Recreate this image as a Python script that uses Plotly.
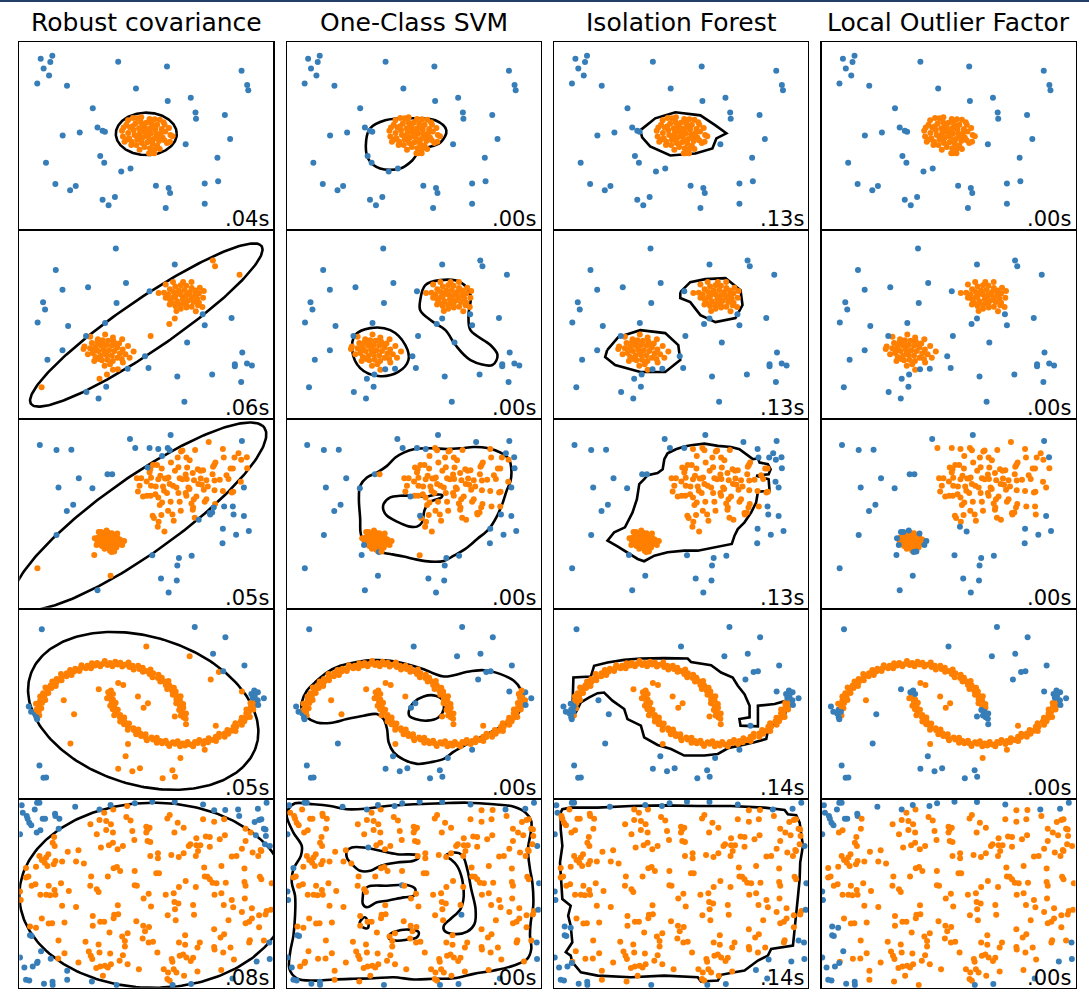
import numpy as np
import plotly.graph_objects as go

TITLES = ["Robust covariance", "One-Class SVM", "Isolation Forest", "Local Outlier Factor"]
TIMES = [[".04s", ".00s", ".13s", ".00s"],
         [".06s", ".00s", ".13s", ".00s"],
         [".05s", ".00s", ".13s", ".00s"],
         [".05s", ".00s", ".14s", ".00s"],
         [".08s", ".00s", ".14s", ".00s"]]
BLUE, ORANGE = "#377eb8", "#ff7f00"

# ---------------- row 1 : one blob + outliers ----------------
R1_CORE = [(-1.01,1.14),(-0.74,1.31),(-0.28,1.36),(0.18,1.24),(0.46,1.21),(0.74,1.19),(1.01,0.81),(1.25,0.56),
           (1.33,0.04),(1.45,-0.05),(1.14,-0.56),(1.30,-0.45),(0.74,-0.99),(0.44,-1.31),(0.15,-1.31),(0.25,-1.32),
           (-0.37,-1.06),(-0.83,-0.71),(-1.20,-0.46),(-1.29,-0.06),(-1.34,0.36),(-1.10,0.81),(-0.5,1.3),(0.95,1.0),
           (-1.25,0.6),(-1.05,-0.3),
           (-0.9,0.6),(-0.6,0.9),(-0.3,1.0),(0.0,0.95),(0.3,0.9),(0.6,0.8),(0.85,0.5),(-1.0,0.2),(-0.7,0.4),
           (-0.4,0.55),(-0.1,0.6),(0.2,0.55),(0.5,0.45),(0.8,0.2),(1.05,0.3),(-0.95,-0.2),(-0.65,0.05),(-0.35,0.2),
           (-0.05,0.25),(0.25,0.15),(0.55,0.1),(0.9,-0.15),(-0.8,-0.45),(-0.5,-0.3),(-0.2,-0.15),(0.1,-0.1),
           (0.4,-0.25),(0.7,-0.4),(1.0,-0.35),(-0.55,-0.7),(-0.25,-0.55),(0.05,-0.5),(0.35,-0.6),(0.6,-0.75),
           (-0.1,-0.85),(0.2,-0.95),(0.45,-1.0),(-0.15,0.35),(0.15,0.3),(0.35,0.6),(-0.45,-0.05),(0.65,-0.1),
           (-0.75,0.7),(0.0,0.0),(-0.3,-0.35),(0.3,-0.4),(0.5,0.7),(-0.2,0.8)]
R1_FLAG = [(-5.82,5.73,"bbbb"),(-5.18,5.95,"bbbb"),(-5.29,5.48,"bbbb"),(-5.66,5.00,"bbbb"),(-5.36,4.48,"bbbb"),
           (-6.01,3.88,"bbbb"),(-4.37,3.71,"bbbb"),(-1.55,5.50,"bbbb"),(1.14,5.15,"bbbb"),(5.25,4.83,"bbbb"),
           (5.56,3.78,"bbbb"),(5.62,3.38,"bbbb"),(-0.57,3.51,"bbbb"),(1.18,2.58,"bbbb"),(2.45,2.83,"bbbb"),
           (-2.95,2.03,"bbbb"),(2.71,1.73,"bbbb"),(2.74,1.26,"bbbb"),(4.33,1.53,"bbbb"),(-2.69,0.61,"bbbb"),
           (-2.41,0.36,"bbbb"),(-2.28,0.29,"bbbb"),(-4.61,0.01,"bbbb"),(-3.67,0.24,"bbbb"),(2.17,-0.64,"bbbb"),
           (4.62,-0.26,"bbbb"),(-2.54,-1.53,"bbbb"),(-2.32,-2.03,"bbbb"),(-5.53,-2.03,"bbbb"),(-1.38,-2.68,"bbbb"),
           (-0.87,-2.46,"bbbb"),(3.92,-1.66,"bbbb"),(3.96,-3.41,"bbbb"),(3.22,-3.58,"bbbb"),(-5.01,-3.61,"bbbb"),
           (-3.89,-3.76,"bbbb"),(-4.20,-4.08,"bbbb"),(0.53,-3.73,"bbbb"),(1.23,-3.91,"bbbb"),(1.31,-4.28,"bbbb"),
           (-1.73,-4.58,"bbbb"),(-2.41,-4.78,"bbbb"),(-2.08,-5.20,"bbbb"),(1.07,-5.40,"bbbb"),(3.22,-5.08,"bbbb")]

# ---------------- row 2 : two blobs + outliers ----------------
R2_CORE = [(0.68,2.32),(1.07,2.96),(1.47,3.13),(2.03,3.13),(2.49,3.13),(2.95,2.71),(3.17,2.47),(3.13,1.97),
           (3.09,1.27),(2.73,0.95),(2.21,1.23),(1.66,0.98),(1.29,1.47),(1.07,1.97),(0.98,2.34),(2.85,1.40),
           (1.3,2.6),(1.6,2.8),(1.9,2.9),(2.2,2.85),(2.5,2.7),(2.7,2.5),(1.2,2.2),(1.5,2.4),(1.8,2.5),(2.1,2.55),
           (2.4,2.4),(2.7,2.2),(2.9,2.3),(1.3,1.85),(1.6,2.05),(1.9,2.2),(2.2,2.15),(2.5,2.0),(2.8,1.9),(1.4,1.6),
           (1.7,1.7),(2.0,1.85),(2.3,1.75),(2.6,1.65),(2.9,1.6),(1.6,1.35),(1.9,1.45),(2.2,1.4),(2.5,1.3),
           (1.9,1.15),(2.05,2.0),(1.75,2.3),(2.35,2.25),(2.1,1.6),(1.5,2.0),
           (-3.41,-1.67),(-3.09,-0.95),(-2.67,-1.13),(-2.27,-0.78),(-1.84,-1.0),(-1.33,-1.13),(-1.01,-1.63),
           (-0.70,-2.04),(-0.92,-2.51),(-1.29,-2.86),(-1.84,-3.41),(-2.30,-3.11),(-2.87,-2.76),(-3.22,-2.24),
           (-3.46,-1.86),(-3.0,-1.4),(-2.7,-1.35),(-2.4,-1.2),(-2.1,-1.25),(-1.8,-1.3),(-1.5,-1.45),(-3.1,-1.8),
           (-2.8,-1.7),(-2.5,-1.6),(-2.2,-1.55),(-1.9,-1.6),(-1.6,-1.75),(-1.3,-1.9),(-2.95,-2.15),(-2.65,-2.0),
           (-2.35,-1.9),(-2.05,-1.95),(-1.75,-2.0),(-1.45,-2.2),(-1.15,-2.25),(-2.8,-2.45),(-2.5,-2.35),
           (-2.2,-2.3),(-1.9,-2.35),(-1.6,-2.5),(-1.35,-2.6),(-2.45,-2.7),(-2.15,-2.65),(-1.85,-2.75),
           (-2.0,-3.0),(-2.3,-2.05),(-2.6,-2.6),(-1.7,-1.5),(-2.45,-1.45),(-2.9,-2.0)]
R2_FLAG = [(-1.68,5.64,"bbbb"),(-4.99,4.03,"bbbb"),(-4.62,2.56,"bbbb"),(-3.21,2.74,"bbbb"),(-1.12,3.06,"bbbb"),
           (1.57,4.45,"bbbb"),(3.67,4.75,"obbb"),(3.79,4.32,"obbb"),(5.14,3.68,"obbb"),(0.18,2.44,"bbbb"),
           (-5.69,1.62,"bbbb"),(-5.58,1.08,"bbbb"),(-1.64,1.57,"bbbb"),(-5.99,0.11,"bbbb"),(-4.31,-0.14,"bbbb"),
           (-2.27,0.09,"bbbb"),(-3.32,-0.88,"bbbb"),(0.24,-0.88,"obbb"),(1.27,0.01,"obbb"),(1.57,0.41,"obbb"),
           (3.11,0.73,"bbbb"),(3.22,-0.09,"bbbb"),(4.70,0.46,"bbbb"),(2.25,-1.38,"bbbb"),(-4.62,-1.95,"bbbb"),
           (-5.45,-2.66,"bbbb"),(-0.07,-2.39,"bbbb"),(0.12,-3.28,"bbbb"),(-1.57,-3.36,"obbb"),(-1.03,-3.33,"bbbb"),
           (-2.17,-3.75,"obbb"),(-2.58,-4.08,"obbb"),(-2.21,-4.67,"bbbb"),(-3.30,-5.07,"bbbb"),(-2.63,-5.54,"bbbb"),
           (-5.77,-4.70,"obbb"),(1.71,-3.90,"bbbb"),(2.10,-5.79,"bbbb"),(3.63,-3.75,"bbbb"),(5.23,-4.32,"bbbb"),
           (5.29,-2.12,"bbbb"),(4.88,-2.99,"bbbb"),(4.88,-3.14,"bbbb"),(5.55,-2.94,"bbbb"),(5.82,-3.09,"bbbb")]

# ---------------- row 3 : wide blob + tight blob + outliers ----------------
R3_CORE = [(1.92,4.65),(1.99,4.72),(2.69,4.77),(1.73,4.20),(2.21,4.20),(2.39,4.00),(0.22,3.33),(0.37,3.65),
           (0.59,3.65),(0.85,3.38),(1.36,3.83),(1.77,3.48),(2.25,3.46),(2.84,3.33),(2.98,3.21),(3.13,3.26),
           (3.74,3.65),(3.81,3.83),(3.68,3.51),(4.64,3.38),(4.77,3.38),(4.42,2.89),(1.58,3.21),(0.18,3.08),
           (-0.52,2.66),(-0.28,2.66),(0.02,2.42),(0.26,2.69),(0.66,2.59),(0.77,2.84),(1.03,2.64),(1.22,2.71),
           (1.84,2.66),(1.99,2.59),(2.17,2.94),(2.23,2.61),(2.56,3.04),(2.63,2.51),(3.00,2.64),(3.31,2.51),
           (3.65,2.96),(3.76,2.49),(4.05,2.54),(4.53,2.61),(-0.37,2.09),(0.26,2.09),(0.52,2.04),(0.92,2.04),
           (1.29,2.22),(1.47,2.09),(0.98,1.72),(1.14,1.55),(1.77,1.55),(2.17,1.55),(2.38,1.85),(2.87,2.22),
           (3.06,2.17),(3.17,1.80),(3.39,2.04),(3.76,1.77),(4.22,1.70),(4.71,1.60),(4.79,1.65),(-0.46,1.67),
           (0.04,1.35),(0.24,1.35),(0.50,1.47),(0.66,1.22),(0.87,0.85),(1.34,0.90),(1.84,0.90),(2.21,1.35),
           (2.49,0.78),(2.62,1.10),(2.76,1.30),(3.22,0.90),(3.31,1.10),(3.79,0.73),(0.74,0.66),(1.20,0.24),
           (1.44,-0.04),(1.90,0.24),(2.58,0.48),(2.56,0.31),(0.42,-0.31),(0.83,-0.09),(0.68,-0.58),(1.51,-0.51),
           (2.67,-0.28),(2.32,1.97),(1.66,1.97),(1.14,2.64),
           (-2.5,-1.55),(-2.3,-1.45),(-2.1,-1.4),(-1.9,-1.45),(-1.7,-1.6),(-2.65,-1.75),(-2.45,-1.7),(-2.25,-1.65),
           (-2.05,-1.6),(-1.85,-1.65),(-1.6,-1.75),(-1.45,-1.9),(-2.7,-2.0),(-2.5,-1.95),(-2.3,-1.9),(-2.1,-1.85),
           (-1.9,-1.9),(-1.7,-1.95),(-1.5,-2.1),(-2.6,-2.2),(-2.4,-2.15),(-2.2,-2.1),(-2.0,-2.05),(-1.8,-2.15),
           (-1.6,-2.3),(-2.45,-2.4),(-2.25,-2.35),(-2.05,-2.3),(-1.85,-2.4),(-1.65,-2.5),(-2.3,-2.6),(-2.1,-2.55),
           (-1.9,-2.6),(-2.0,-2.75),(-2.15,-2.0),(-1.95,-2.2),(-2.35,-1.8),(-1.75,-1.8)]
R3_FLAG = [(-0.61,4.92,"bbbo"),(0.18,4.92,"bbbo"),(0.66,4.84,"bboo"),(1.18,4.92,"booo"),(1.29,4.74,"booo"),
           (0.87,4.32,"booo"),(0.07,3.46,"booo"),(3.44,5.36,"obbo"),(4.22,4.84,"oobo"),(4.27,4.20,"oobo"),
           (4.86,4.20,"oobo"),(5.08,4.52,"obbo"),(5.23,4.03,"oobo"),(5.56,3.41,"obbo"),(5.21,2.39,"oobo"),
           (5.38,1.97,"bbbo"),(4.77,0.56,"bobo"),(4.81,-0.04,"bbbo"),(0.35,-0.14,"oboo"),(-0.18,1.30,"oboo"),
           (3.52,-0.04,"booo"),(3.50,0.06,"booo"),(3.63,0.11,"booo"),(2.89,-0.43,"booo"),(4.29,0.56,"booo"),
           (3.72,0.48,"booo"),
           (-2.62,-1.35,"ooob"),(-2.49,-1.35,"ooob"),(-2.19,-1.23,"ooob"),(-1.60,-1.47,"ooob"),(-1.22,-2.02,"ooob"),
           (-1.33,-2.32,"ooob"),(-2.84,-1.82,"ooob"),(-2.74,-2.32,"obob"),(-1.92,-2.84,"obob"),(-1.77,-2.81,"ooob"),
           (-5.87,5.14,"bbbb"),(-4.95,4.77,"bbbb"),(-4.13,4.79,"bbbb"),(-0.90,5.59,"bbbb"),(1.34,5.88,"bbbb"),
           (5.27,5.44,"bbbb"),(5.54,4.22,"obbb"),(-3.72,2.66,"bbbb"),(-2.14,2.96,"bbbb"),(-1.88,2.96,"bobb"),
           (-4.84,1.97,"bbbb"),(-2.97,1.92,"bbbb"),(-4.03,0.68,"bbbb"),(-4.38,0.21,"bbbb"),(-4.95,-1.57,"bbbb"),
           (-6.00,-4.05,"obbb"),(-2.87,-3.06,"obbb"),(-1.97,-4.62,"obbb"),(-2.69,-5.69,"bbbb"),(0.63,-0.95,"ooob"),
           (1.00,-1.32,"ooob"),(0.33,-3.08,"bobb"),(1.80,-3.28,"bbbb"),(1.71,-3.85,"bbbb"),(2.50,-3.12,"bbbb"),
           (0.81,-4.82,"bbbb"),(1.68,-4.97,"bbbb"),(1.23,-5.86,"bbbb"),(4.22,-1.10,"bbbb"),(4.20,-2.19,"bbbb"),
           (4.95,-1.55,"bbbb"),(5.65,-1.28,"bbbb"),(5.38,-0.16,"bbbb")]

# ---------------- row 4 : two moons + outliers ----------------
R4_CORE = [(-5.90,-0.86),(-5.79,-0.33),(-5.75,0.07),(-5.85,0.25),(-5.57,0.30),(-5.85,0.55),(-5.61,0.61),
           (-5.69,0.80),(-5.40,0.81),(-5.46,1.0),(-5.56,1.23),(-5.23,1.18),(-5.28,1.38),(-4.99,1.34),(-5.18,1.67),
           (-4.94,1.64),(-4.95,1.85),(-4.67,1.77),(-4.68,1.97),(-4.70,2.22),(-4.40,2.07),(-4.38,2.28),(-4.12,2.15),
           (-4.20,2.52),(-3.98,2.42),(-3.92,2.62),(-3.69,2.46),(-3.63,2.65),(-3.57,2.89),(-3.33,2.66),(-3.25,2.85),
           (-3.05,2.65),(-3.00,3.03),(-2.82,2.86),(-2.71,3.04),(-2.54,2.81),(-2.42,2.98),(-2.29,3.19),(-2.14,2.90),
           (-2.0,3.05),(-1.87,2.80),(-1.71,3.14),(-1.59,2.93),(-1.43,3.06),(-1.33,2.79),(-1.17,2.91),(-0.98,3.08),
           (-0.93,2.75),(-0.75,2.85),(-0.70,2.57),(-0.45,2.85),(-0.39,2.61),(-0.20,2.69),(-0.19,2.40),(0.0,2.46),
           (0.23,2.56),(0.18,2.23),(0.38,2.28),(0.34,1.99),(0.67,2.18),(0.64,1.94),(0.85,1.95),(0.77,1.67),
           (0.97,1.68),(1.22,1.70),(1.07,1.40),(1.28,1.38),(1.15,1.12),(1.52,1.20),(1.42,0.98),(1.62,0.92),
           (1.46,0.69),(1.65,0.63),(1.89,0.57),(1.66,0.33),(1.85,0.25),(1.65,0.05),(2.03,0.0),(1.86,-0.18),
           (2.04,-0.29),
           (-2.03,0.58),(-2.16,0.42),(-1.84,0.32),(-1.91,0.17),(-1.69,0.08),(-1.99,-0.14),(-1.76,-0.22),
           (-1.85,-0.40),(-1.57,-0.44),(-1.70,-0.65),(-1.77,-0.84),(-1.44,-0.83),(-1.46,-1.0),(-1.22,-1.01),
           (-1.44,-1.32),(-1.20,-1.32),(-1.23,-1.52),(-0.95,-1.47),(-1.01,-1.71),(-1.02,-1.92),(-0.71,-1.81),
           (-0.68,-1.97),(-0.44,-1.91),(-0.56,-2.27),(-0.32,-2.20),(-0.29,-2.40),(-0.04,-2.26),(-0.03,-2.51),
           (0.03,-2.71),(0.29,-2.51),(0.37,-2.65),(0.58,-2.52),(0.58,-2.90),(0.78,-2.76),(0.87,-2.94),(1.07,-2.74),
           (1.16,-2.96),(1.27,-3.14),(1.46,-2.86),(1.58,-2.98),(1.73,-2.79),(1.86,-3.15),(2.0,-2.95),(2.14,-3.10),
           (2.27,-2.84),(2.42,-3.03),(2.58,-3.16),(2.68,-2.84),(2.83,-2.91),(2.92,-2.69),(3.14,-2.99),(3.22,-2.76),
           (3.40,-2.85),(3.44,-2.57),(3.65,-2.70),(3.84,-2.77),(3.83,-2.44),(4.0,-2.46),(4.01,-2.22),(4.32,-2.44),
           (4.32,-2.20),(4.52,-2.23),(4.47,-1.95),(4.71,-2.01),(4.92,-2.02),(4.81,-1.71),(4.97,-1.68),(4.91,-1.44),
           (5.27,-1.56),(5.20,-1.32),(5.40,-1.29),(5.26,-1.04),(5.51,-1.03),(5.71,-0.97),(5.51,-0.71),(5.65,-0.63),
           (5.52,-0.42),(5.90,-0.42),(5.76,-0.22),(5.94,-0.13),(5.74,0.07),(5.96,0.16),
           (-1.55,1.55),(-1.27,1.40),(-0.46,0.56),(-1.01,-2.99)]
R4_FLAG = [(-6.05,-1.0,"bbbb"),(-6.14,-0.71,"bbbb"),(-5.93,-0.59,"oobb"),(-6.06,-0.43,"oobb"),(-5.91,-0.17,"oobo"),
           (-6.08,0.02,"oobo"),(1.81,-0.46,"ooob"),(1.98,-0.58,"ooob"),(2.19,-0.71,"ooob"),(1.90,-0.86,"ooob"),
           (2.05,-1.0,"ooob"),(-1.95,1.0,"ooob"),(-2.10,0.86,"ooob"),(-1.84,0.73,"ooob"),(6.14,0.27,"bobb"),
           (5.86,0.46,"bobb"),(5.98,0.58,"bobb"),(5.79,0.73,"bobb"),(6.15,0.86,"bbbb"),(5.95,1.0,"bobb"),
           (-5.76,5.56,"bbbb"),(2.67,5.74,"bbbb"),(4.36,4.97,"bbbb"),(0.0,4.27,"obbb"),(2.39,3.55,"obbb"),
           (3.68,3.73,"bbbb"),(4.0,2.37,"obbb"),(4.24,2.44,"bbbb"),(5.41,2.86,"bbbb"),(3.55,1.82,"obbb"),
           (5.27,0.93,"obbb"),(6.48,0.43,"bbbb"),(6.17,-0.09,"bbbb"),(-2.62,1.10,"ooob"),(-6.48,-0.19,"bbbb"),
           (-6.35,-0.58,"bbbb"),(-6.02,-1.15,"bbbb"),(-3.98,-0.78,"oobb"),(-4.18,-2.96,"obbb"),(-5.89,-4.60,"bbbb"),
           (-5.67,-5.51,"bbbb"),(-5.52,-5.49,"bbbb"),(-1.14,-3.90,"obbb"),(-1.55,-4.84,"obbb"),(-0.77,-5.02,"obbb"),
           (-0.35,-4.79,"obbb"),(1.44,-4.94,"obbb"),(0.90,-5.54,"obbb"),(1.58,-5.44,"obbb"),(1.57,-0.93,"ooob"),
           (2.17,-1.10,"ooob"),(2.19,-1.52,"ooob"),(-4.55,0.28,"oobo"),(0.09,0.04,"oboo"),(-0.15,-0.28,"oboo"),
           (3.83,-1.62,"oobo"),(1.88,-4.03,"obbo"),(3.22,-3.41,"obbo")]

# ---------------- row 5 : uniform square ----------------
R5_CORE = []
R5_FLAG = [(-6.87,6.60,"bbbb"),(-6.81,6.05,"bobb"),(-6.15,6.30,"boob"),(-6.59,5.81,"boob"),(-6.54,5.61,"boob"),
           (-6.45,5.31,"boob"),(-6.34,5.11,"boob"),(-6.02,6.80,"bbbb"),(-5.89,6.80,"bbbb"),(-5.71,5.61,"boob"),
           (-5.58,5.61,"boob"),(-5.03,5.98,"boob"),(-5.01,5.81,"boob"),(-4.79,5.61,"booo"),(-3.92,6.50,"bbbb"),
           (-3.08,5.19,"oooo"),(-2.58,6.30,"bbob"),(-2.58,5.51,"oooo"),(-2.32,6.05,"oooo"),(-1.82,6.30,"oooo"),
           (-1.97,6.63,"bbbb"),(-2.21,5.43,"oooo"),(-1.95,5.19,"oooo"),(-1.10,5.73,"oooo"),(-0.87,5.48,"oooo"),
           (-1.05,6.55,"obbb"),(-0.63,6.75,"bbbb"),(0.0,5.01,"oooo"),(0.18,4.94,"oooo"),(0.33,6.87,"bbbb"),
           (1.16,5.63,"oooo"),(1.29,5.88,"oooo"),(1.73,5.31,"oooo"),(2.06,4.94,"oooo"),(1.57,6.85,"bbbb"),
           (3.13,6.67,"bbbb"),(3.13,5.56,"oooo"),(3.74,6.23,"booo"),(4.35,6.25,"booo"),(3.74,5.38,"oooo"),
           (4.29,5.56,"oooo"),(5.06,6.30,"bbbb"),(5.12,5.81,"booo"),(6.15,6.35,"bbbb"),(6.63,6.80,"bbbb"),
           (5.97,5.36,"booo"),(6.22,5.51,"booo"),(6.34,5.56,"booo"),(-6.96,4.44,"bbbb"),(-5.84,4.74,"booo"),
           (-6.04,4.57,"booo"),(-4.83,4.86,"booo"),(5.47,4.86,"oooo"),(6.48,4.86,"booo"),(6.57,4.81,"booo"),
           (-5.08,4.24,"oooo"),(-5.16,3.82,"oooo"),(-5.05,3.57,"oooo"),(-2.73,4.44,"oooo"),(-2.21,4.76,"oooo"),
           (-1.84,4.57,"oooo"),(-1.84,3.82,"oooo"),(-2.06,3.62,"oooo"),(-2.50,3.45,"oboo"),(-1.58,3.33,"oooo"),
           (-1.29,3.57,"oooo"),(-0.77,4.69,"oooo"),(-0.66,4.02,"oooo"),(0.07,4.81,"oooo"),(0.0,4.57,"oooo"),
           (0.07,3.95,"oooo"),(0.22,3.87,"oooo"),(1.55,4.57,"oooo"),(2.76,4.14,"oooo"),(2.76,3.62,"oooo"),
           (2.34,3.57,"oooo"),(2.43,3.70,"oooo"),(2.98,3.62,"oooo"),(3.28,4.27,"oooo"),(3.50,4.24,"oooo"),
           (3.50,3.52,"oooo"),(4.05,4.07,"oooo"),(4.33,4.37,"oooo"),(5.47,3.95,"oooo"),(5.27,3.37,"oooo"),
           (5.75,4.57,"oooo"),(6.04,4.37,"booo"),(6.59,4.32,"booo"),(6.81,3.57,"bbbo"),(6.54,3.70,"booo"),
           (6.34,3.20,"oooo"),(-5.89,2.83,"oooo"),(-5.76,2.53,"oooo"),(-5.60,2.33,"oooo"),(-5.52,2.71,"oooo"),
           (-5.40,2.95,"oooo"),(-5.45,2.08,"oooo"),(-5.10,2.21,"oooo"),(-5.01,2.46,"oooo"),(-4.64,2.41,"oooo"),
           (-4.33,3.15,"oooo"),(-3.74,3.25,"oooo"),(-3.87,2.41,"oooo"),(-3.44,2.26,"oooo"),(-1.80,1.91,"oooo"),
           (-1.62,2.01,"oooo"),(-1.44,1.71,"oooo"),(-0.64,1.71,"oooo"),(0.22,2.83,"oooo"),(0.64,3.03,"oooo"),
           (0.64,2.66,"oooo"),(1.38,2.90,"oooo"),(1.79,2.75,"oooo"),(2.06,3.03,"oooo"),(2.73,2.83,"oooo"),
           (2.85,3.20,"oooo"),(4.71,2.78,"oooo"),(4.97,2.83,"oooo"),(5.41,1.89,"oooo"),(5.86,3.08,"oooo"),
           (6.17,2.83,"oooo"),(6.30,3.28,"oooo"),(-6.63,1.94,"oboo"),(-6.08,2.03,"oooo"),(4.14,2.08,"oooo"),
           (3.19,1.96,"oooo"),(-6.63,1.22,"oooo"),(-6.50,1.29,"oooo"),(-6.11,0.72,"oooo"),(-6.32,0.60,"oooo"),
           (-5.38,0.60,"oooo"),(-5.84,-0.07,"oooo"),(-5.52,-0.07,"oooo"),(-5.06,0.30,"oooo"),(-5.01,-0.07,"oooo"),
           (-5.30,-0.10,"oooo"),(-4.70,0.79,"oooo"),(-4.27,0.22,"oooo"),(-3.04,1.29,"oooo"),(-3.09,0.60,"oooo"),
           (-2.73,0.35,"oooo"),(-2.63,0.15,"oooo"),(-2.12,1.29,"oooo"),(-0.64,0.65,"oboo"),(-0.52,0.60,"oooo"),
           (0.13,0.02,"oooo"),(0.55,1.54,"oooo"),(0.70,1.54,"oooo"),(1.07,-0.07,"oooo"),(1.51,0.05,"oooo"),
           (1.80,0.52,"oooo"),(2.17,0.97,"oooo"),(2.73,0.52,"oooo"),(3.22,1.29,"oooo"),(3.37,1.27,"oooo"),
           (3.50,1.09,"oooo"),(3.65,0.84,"oooo"),(3.87,0.79,"oooo"),(4.38,0.84,"oooo"),(5.41,0.89,"oooo"),
           (5.47,0.60,"oooo"),(6.34,1.09,"oooo"),(6.26,1.27,"oooo"),(6.91,0.79,"obbo"),(3.76,-0.07,"oooo"),
           (4.14,0.05,"oooo"),(-6.96,0.17,"obbb"),(-4.64,-0.89,"oooo"),(-3.87,-0.97,"oooo"),(-1.57,-0.84,"oooo"),
           (-1.77,-1.56,"oooo"),(-1.55,-1.51,"oooo"),(-0.15,-0.35,"oooo"),(0.26,-0.94,"oooo"),(1.18,-1.59,"oooo"),
           (1.55,-0.60,"oooo"),(1.58,-1.14,"oooo"),(1.77,-0.72,"oooo"),(2.58,-0.82,"oooo"),(2.63,-1.56,"oboo"),
           (4.27,-0.82,"oooo"),(4.71,-0.45,"oooo"),(5.43,-0.35,"oooo"),(5.27,-1.34,"oooo"),(5.82,-1.07,"oooo"),
           (4.79,-0.99,"oooo"),(6.63,-1.27,"oooo"),(6.87,-1.19,"obbo"),(6.22,-1.59,"oooo"),(-6.92,-0.45,"obbb"),
           (-5.76,-1.84,"oooo"),(-5.38,-2.21,"oooo"),(-5.19,-2.18,"oooo"),(-4.51,-2.13,"oooo"),(-2.95,-1.64,"oooo"),
           (-2.95,-2.38,"oooo"),(-2.54,-2.08,"oooo"),(-2.32,-2.08,"oooo"),(-1.80,-1.81,"oooo"),(-0.55,-2.03,"oooo"),
           (-0.17,-2.38,"oooo"),(-0.07,-2.78,"oooo"),(0.15,-2.46,"oooo"),(1.62,-1.96,"oooo"),(3.74,-2.63,"oooo"),
           (4.53,-1.96,"oooo"),(5.47,-2.18,"oooo"),(5.67,-2.08,"oooo"),(5.82,-1.84,"oooo"),(6.22,-2.48,"oooo"),
           (6.57,-1.54,"oooo"),(-2.03,-2.88,"oooo"),(-1.03,-2.93,"oooo"),(-6.41,-2.43,"oobb"),(-6.08,-2.53,"oobb"),
           (-6.41,-3.08,"bbbb"),(-6.32,-3.13,"bbbb"),(-4.84,-3.47,"oooo"),(-3.35,-3.57,"oooo"),(-2.63,-3.77,"oooo"),
           (-3.17,-4.29,"oooo"),(-2.58,-4.37,"oooo"),(-1.99,-4.44,"oooo"),(-1.33,-3.18,"oooo"),(-1.18,-3.52,"oooo"),
           (-1.18,-3.92,"oooo"),(-1.29,-4.57,"oooo"),(-0.20,-3.33,"oooo"),(0.13,-3.62,"oooo"),(0.37,-3.57,"oooo"),
           (0.61,-4.37,"oooo"),(1.80,-3.62,"oooo"),(2.14,-3.08,"oooo"),(2.14,-3.80,"oooo"),(2.95,-3.62,"oooo"),
           (2.82,-4.00,"oooo"),(3.74,-3.95,"oooo"),(3.76,-4.14,"oooo"),(4.29,-3.00,"oooo"),(4.09,-3.25,"oooo"),
           (4.24,-4.37,"oooo"),(4.64,-4.00,"oooo"),(5.71,-3.45,"oooo"),(5.67,-3.62,"oooo"),(6.48,-3.47,"oobo"),
           (-4.51,-4.42,"oooo"),(-5.27,-4.84,"booo"),(-5.99,-5.06,"booo"),(-5.80,-4.27,"boob"),(6.78,-3.62,"bbbb"),
           (-4.86,-4.81,"oooo"),(-3.06,-4.62,"oooo"),(-2.98,-4.86,"oooo"),(-1.47,-4.99,"oooo"),(-1.03,-5.24,"oooo"),
           (-1.95,-5.24,"oooo"),(-2.76,-5.53,"oooo"),(-2.54,-5.41,"oooo"),(-2.28,-5.36,"oooo"),(-2.12,-5.48,"oooo"),
           (-2.39,-6.10,"oooo"),(-4.36,-5.73,"booo"),(-4.36,-6.40,"booo"),(-3.00,-6.53,"booo"),(-3.74,-5.11,"oooo"),
           (-0.41,-5.61,"oooo"),(0.96,-5.61,"oooo"),(1.20,-5.86,"oooo"),(1.40,-4.86,"oooo"),(1.44,-5.06,"oooo"),
           (1.84,-4.62,"oooo"),(2.03,-4.52,"oooo"),(2.21,-4.74,"oooo"),(2.58,-4.76,"oooo"),(2.45,-5.01,"oooo"),
           (1.51,-5.61,"oooo"),(1.66,-5.86,"oooo"),(1.16,-6.35,"oooo"),(1.29,-6.48,"oooo"),(2.08,-6.10,"oooo"),
           (2.82,-5.78,"oooo"),(4.13,-5.68,"oobo"),(4.83,-4.89,"oobo"),(-1.64,-6.80,"bbbo"),(-6.96,-4.74,"bbbb"),
           (-6.72,-5.48,"bbbb"),(-6.26,-5.41,"bobb"),(-6.02,-5.16,"bobb"),(-6.63,-6.40,"bbbb"),(-6.45,-6.45,"bbbb"),
           (-5.64,-6.70,"bbbb"),(-5.17,-6.55,"bbbb"),(-5.16,-6.80,"bbbb"),(1.45,-6.80,"bbbb"),(2.47,-6.72,"bbbb"),
           (4.75,-6.30,"bbbb"),(6.08,-5.04,"bobb"),(6.80,-4.86,"bbbb")]

ROWS = [(R1_CORE, R1_FLAG), (R2_CORE, R2_FLAG), (R3_CORE, R3_FLAG), (R4_CORE, R4_FLAG), (R5_CORE, R5_FLAG)]

# Robust covariance boundaries: centre x, centre y, semi-axis a, semi-axis b, angle (deg)
RC_ELLIPSES = [(0.0, 0.13, 1.68, 1.58, 0.0),
               (0.0, -0.07, 8.67, 1.7, 43.4),
               (-0.4, -0.2, 9.6, 2.5, 45.0),
               (-0.17, -0.52, 6.91, 5.21, -37.0),
               (0.4, -0.1, 7.4, 6.9, 0.0)]

# One-Class SVM decision boundaries (closed curves)
SVM_R1 = [[(-2.40,0.54),(-1.57,1.14),(-0.19,1.29),(1.19,1.14),(1.80,0.39),(1.47,-0.51),(0.36,-1.11),(-0.08,-1.85),
           (-0.74,-2.45),(-1.85,-2.45),(-2.51,-1.71),(-2.62,-0.36)]]
SVM_R2 = [[(0.36,1.79),(0.64,2.90),(1.47,3.28),(2.57,3.13),(3.13,2.16),(3.02,0.67),(3.13,-0.45),(4.23,-1.56),
           (4.62,-2.31),(4.34,-3.05),(3.13,-2.68),(2.30,-1.56),(1.75,-0.45),(0.92,0.30),(0.36,1.04)],
          [(-3.22,-0.82),(-2.40,-0.30),(-1.29,-0.45),(-0.46,-1.56),(-0.29,-2.68),(-0.85,-3.57),(-1.95,-3.87),
           (-2.95,-3.28),(-3.39,-1.94)]]
SVM_R3 = [[(-0.55,4.57),(0.0,4.82),(0.92,4.89),(1.84,4.84),(2.58,4.89),(3.31,4.99),(4.05,4.92),(4.79,4.57),
           (5.25,4.08),(5.38,3.33),(5.34,2.47),(5.12,1.72),(4.88,0.73),(4.60,-0.14),(4.14,-1.13),(3.50,-1.87),
           (2.85,-2.61),(2.21,-3.11),(1.66,-3.51),(0.92,-3.56),(0.18,-3.41),(-0.55,-3.18),(-1.29,-2.99),
           (-1.84,-2.86),(-2.39,-2.56),(-2.76,-2.12),(-2.93,-1.38),(-2.95,-0.38),(-3.02,1.10),(-2.95,2.09),
           (-2.58,2.71),(-2.03,3.08),(-1.47,3.58),(-1.01,4.20)],
          [(-1.66,0.73),(-1.29,1.23),(-0.74,1.35),(0.0,1.35),(0.74,1.30),(1.29,1.45),(1.57,1.40),(1.53,1.23),
           (1.20,1.05),(0.83,0.85),(0.59,0.24),(0.46,-0.63),(0.18,-0.95),(-0.28,-0.93),(-0.92,-0.58),
           (-1.47,-0.14),(-1.66,0.24)]]
SVM_R4 = [[(-6.17,0.11),(-5.89,0.98),(-5.34,1.72),(-4.79,2.34),(-4.05,2.84),(-3.13,3.13),(-2.21,3.26),(-1.29,3.21),
           (-0.37,2.96),(0.55,2.59),(1.10,2.27),(1.66,2.04),(2.21,2.14),(2.95,2.39),(3.87,2.51),(4.79,2.22),
           (5.52,1.72),(5.89,1.10),(5.99,0.36),(5.80,-0.63),(5.34,-1.25),(4.60,-1.87),(3.68,-2.49),(2.95,-2.99),
           (2.21,-3.56),(1.66,-4.10),(0.92,-4.35),(0.18,-4.47),(-0.55,-4.15),(-1.10,-3.61),(-1.38,-2.86),
           (-1.47,-1.87),(-1.66,-1.13),(-2.03,-0.76),(-2.76,-0.88),(-3.68,-1.13),(-4.60,-1.42),(-5.34,-1.38),
           (-5.89,-1.00),(-6.17,-0.38)],
          [(-0.28,-0.63),(0.0,0.11),(0.55,0.56),(1.20,0.61),(1.62,0.24),(1.66,-0.38),(1.38,-1.00),(0.74,-1.25),
           (0.09,-1.13),(-0.22,-0.93)]]
SVM_R5 = [[(-6.91,6.31),(-6.54,6.75),(-5.52,6.68),(-4.60,6.55),(-3.68,6.31),(-2.58,6.36),(-1.47,6.55),(0.0,6.68),
           (1.47,6.75),(2.95,6.80),(4.42,6.68),(5.52,6.50),(6.17,6.05),(6.48,5.43),(6.45,4.57),(6.30,3.33),
           (6.41,1.85),(6.54,0.85),(6.59,-0.88),(6.45,-2.12),(6.41,-3.11),(6.48,-4.10),(6.26,-4.85),(5.52,-5.34),
           (4.42,-5.71),(3.31,-5.96),(2.21,-6.29),(1.10,-6.33),(0.0,-6.38),(-1.10,-6.21),(-2.21,-6.29),
           (-3.31,-6.33),(-4.42,-6.38),(-5.52,-6.46),(-6.45,-6.29),(-6.85,-5.59),(-6.81,-4.35),(-6.63,-3.11),
           (-6.54,-1.62),(-6.54,-0.14),(-6.72,0.85),(-6.63,1.85),(-6.22,2.84),(-6.17,3.58),(-6.63,4.57),
           (-7.0,5.80)],
          [(-3.68,3.21),(-3.41,3.46),(-2.76,3.46),(-1.84,3.21),(-0.92,2.96),(0.18,2.89),(0.28,2.71),(0.0,2.47),
           (-0.92,2.34),(-1.84,2.09),(-2.39,1.72),(-2.95,1.72),(-3.41,2.22),(-3.68,2.71)],
          [(-2.76,0.24),(-2.49,0.56),(-1.47,0.61),(-0.37,0.66),(0.09,0.36),(0.0,-0.14),(-0.55,-0.26),(-1.47,-0.51),
           (-2.03,-0.63),(-2.58,-1.00),(-2.80,-0.76),(-2.80,-0.14)],
          [(-2.85,-1.87),(-2.67,-1.75),(-2.49,-2.24),(-2.54,-2.56),(-2.80,-2.49),(-2.98,-2.24)],
          [(-1.38,-3.11),(-1.01,-2.81),(-0.28,-2.66),(0.28,-2.86),(0.18,-3.23),(-0.37,-3.41),(-1.01,-3.48),
           (-1.38,-3.31)],
          [(1.75,2.84),(2.21,3.08),(2.67,2.89),(2.95,1.85),(3.17,0.36),(3.41,-1.13),(3.35,-2.24),(2.95,-2.81),
           (2.21,-2.99),(1.69,-2.74),(1.66,-2.37),(2.03,-1.87),(2.58,-1.13),(2.76,-0.14),(2.67,1.10),(2.39,2.09),
           (2.03,2.59)]]
SVM_CURVES = [SVM_R1, SVM_R2, SVM_R3, SVM_R4, SVM_R5]

# Isolation Forest decision boundaries (closed, jagged)
IF_R1 = [[(-2.25,0.39),(-1.42,1.29),(-0.31,1.74),(1.07,1.51),(1.90,0.76),(2.50,0.17),(1.95,-0.21),(1.73,-0.96),
          (0.79,-1.33),(-0.59,-1.48),(-1.70,-0.81),(-2.14,-0.13)]]
IF_R2 = [[(-0.04,2.38),(0.51,3.13),(1.34,3.35),(2.45,3.43),(3.28,2.53),(3.39,1.42),(3.0,0.45),(1.90,0.15),
          (1.07,0.67),(0.51,1.64),(-0.04,1.94)],
         [(-4.07,-1.94),(-3.46,-0.97),(-2.24,-0.45),(-0.87,-0.67),(-0.15,-1.56),(-0.04,-2.68),(-0.87,-3.57),
          (-2.24,-3.57),(-3.63,-3.05),(-4.18,-2.46)]]
IF_R3 = [[(0.55,5.12),(1.29,5.24),(2.03,5.07),(2.76,4.99),(3.22,4.82),(3.68,4.37),(3.96,4.08),(4.24,4.13),
          (4.33,3.83),(4.79,3.70),(4.94,3.33),(4.83,2.96),(4.14,2.84),(4.83,2.59),(4.88,1.72),(4.24,1.65),
          (4.14,0.85),(3.87,0.11),(3.50,-0.63),(3.13,-1.13),(2.95,-1.62),(2.80,-2.24),(1.84,-2.49),(0.92,-2.74),
          (0.18,-2.74),(-0.74,-2.86),(-1.47,-3.11),(-2.03,-3.53),(-2.39,-3.36),(-2.95,-2.86),(-3.50,-2.42),
          (-4.05,-1.99),(-3.68,-1.37),(-3.09,-1.00),(-2.85,-0.38),(-2.67,0.11),(-2.43,1.10),(-2.30,2.22),
          (-2.03,2.59),(-1.84,2.89),(-1.29,3.04),(-1.01,3.33),(-0.92,4.08),(-0.74,4.52),(-0.28,4.82),(0.18,5.02)]]
IF_R4 = [[(-5.99,-0.63),(-5.93,1.97),(-4.97,2.04),(-4.79,2.84),(-4.05,3.08),(-3.13,3.28),(-2.21,3.38),(-0.92,3.41),
          (0.37,3.38),(0.55,3.13),(1.66,2.89),(2.21,2.34),(2.85,1.97),(3.13,1.35),(3.50,0.73),(3.78,-0.14),
          (3.78,-1.00),(3.22,-1.13),(3.28,-1.62),(4.24,-1.67),(4.24,-0.14),(5.16,-0.01),(5.80,0.24),(5.86,-0.14),
          (5.71,-0.88),(5.16,-1.50),(4.79,-1.99),(4.70,-2.61),(4.05,-2.86),(3.22,-3.11),(2.58,-3.31),(2.03,-3.73),
          (1.29,-3.85),(0.18,-3.85),(-0.55,-3.36),(-1.29,-3.06),(-2.03,-2.49),(-2.21,-1.62),(-2.95,-1.13),
          (-3.13,-0.38),(-3.78,0.24),(-4.24,0.85),(-4.60,0.80),(-5.06,0.48),(-5.52,0.11),(-5.80,-0.63)]]
IF_R5 = [[(-6.63,6.06),(-6.54,6.31),(-6.08,6.43),(-4.60,6.43),(-2.76,6.55),(-0.92,6.60),(0.92,6.55),(2.76,6.55),
          (4.60,6.43),(5.71,6.26),(5.89,5.93),(6.35,5.86),(6.54,5.31),(6.63,4.57),(6.72,3.58),(6.57,2.34),
          (6.54,1.10),(6.45,-0.14),(6.35,-1.37),(6.26,-2.61),(6.17,-3.85),(4.97,-4.10),(4.79,-4.60),(4.24,-4.97),
          (3.87,-5.34),(3.50,-5.71),(2.95,-5.84),(2.21,-6.03),(2.03,-6.46),(1.10,-6.53),(0.92,-6.21),(-0.92,-6.09),
          (-2.76,-6.21),(-4.60,-6.09),(-5.52,-5.84),(-5.99,-5.09),(-6.08,-4.60),(-6.35,-4.35),(-5.99,-3.61),
          (-6.08,-2.37),(-6.22,-1.62),(-6.08,-0.88),(-6.54,-0.38),(-6.63,1.10),(-6.67,2.34),(-6.54,3.58),
          (-6.63,4.82)]]
IF_CURVES = [IF_R1, IF_R2, IF_R3, IF_R4, IF_R5]

# ---------------- layout geometry (pixels) ----------------
FIG_W, FIG_H = 1089, 992
COL_LEFT = [19.3, 286.7, 554.0, 821.5]
PANEL_W = 254.0
ROW_TOP = [41.7, 230.2, 420.0, 610.0, 800.0]
PANEL_H = 187.8


def closed_paths(curves):
    xs, ys = [], []
    for c in curves:
        pts = list(c) + [c[0]]
        xs += [p[0] for p in pts] + [None]
        ys += [p[1] for p in pts] + [None]
    return xs, ys


def ellipse_path(cx, cy, a, b, ang):
    t = np.linspace(0, 2 * np.pi, 241)
    th = np.deg2rad(ang)
    x = cx + a * np.cos(t) * np.cos(th) - b * np.sin(t) * np.sin(th)
    y = cy + a * np.cos(t) * np.sin(th) + b * np.sin(t) * np.cos(th)
    return list(x), list(y)


fig = go.Figure()
annotations = []
layout_axes = {}

for r in range(5):
    core, flagged = ROWS[r]
    pts = [(p[0], p[1], "oooo") for p in core] + list(flagged)
    for c in range(4):
        idx = r * 4 + c + 1
        xa = "x" if idx == 1 else f"x{idx}"
        ya = "y" if idx == 1 else f"y{idx}"
        left = COL_LEFT[c]
        top = ROW_TOP[r]
        layout_axes["xaxis" if idx == 1 else f"xaxis{idx}"] = dict(
            domain=[left / FIG_W, (left + PANEL_W) / FIG_W], range=[-7, 7], anchor=ya,
            showgrid=False, zeroline=False, showticklabels=False, ticks="",
            showline=True, linecolor="black", linewidth=1.2, mirror=True, fixedrange=True)
        layout_axes["yaxis" if idx == 1 else f"yaxis{idx}"] = dict(
            domain=[1 - (top + PANEL_H) / FIG_H, 1 - top / FIG_H], range=[-7, 7], anchor=xa,
            showgrid=False, zeroline=False, showticklabels=False, ticks="",
            showline=True, linecolor="black", linewidth=1.2, mirror=True, fixedrange=True)

        # decision boundary
        if c == 0:
            lx, ly = ellipse_path(*RC_ELLIPSES[r])
            shape = "linear"
        elif c == 1:
            lx, ly = closed_paths(SVM_CURVES[r])
            shape = "spline"
        elif c == 2:
            lx, ly = closed_paths(IF_CURVES[r])
            shape = "linear"
        else:
            lx, ly = [], []
            shape = "linear"
        if lx:
            fig.add_trace(go.Scatter(x=lx, y=ly, mode="lines", xaxis=xa, yaxis=ya,
                                     line=dict(color="black", width=2.6, shape=shape),
                                     hoverinfo="skip", showlegend=False))

        fig.add_trace(go.Scatter(
            x=[p[0] for p in pts], y=[p[1] for p in pts], mode="markers", xaxis=xa, yaxis=ya,
            marker=dict(size=6, color=[BLUE if p[2][c] == "b" else ORANGE for p in pts], line=dict(width=0)),
            hoverinfo="skip", showlegend=False))

        annotations.append(dict(
            text=TIMES[r][c], xref="paper", yref="paper",
            x=(left + PANEL_W - 2.5) / FIG_W, y=1 - (top + PANEL_H + 4) / FIG_H,
            xanchor="right", yanchor="bottom", showarrow=False,
            font=dict(family="DejaVu Sans", size=21, color="black")))

for c in range(4):
    annotations.append(dict(
        text=TITLES[c], xref="paper", yref="paper",
        x=(COL_LEFT[c] + PANEL_W / 2) / FIG_W, y=1 - 39.5 / FIG_H,
        xanchor="center", yanchor="bottom", showarrow=False,
        font=dict(family="DejaVu Sans", size=25, color="black")))

fig.update_layout(
    width=FIG_W, height=FIG_H, autosize=False,
    margin=dict(l=0, r=0, t=0, b=0),
    paper_bgcolor="white", plot_bgcolor="white",
    annotations=annotations,
    shapes=[dict(type="rect", xref="paper", yref="paper", x0=0, x1=1,
                 y0=1 - 2 / FIG_H, y1=1, fillcolor="#243f66", line=dict(width=0))],
    **layout_axes)

fig.write_html("out.html",
               config={"displayModeBar": False, "staticPlot": True},
               post_script="document.body.style.margin='0';document.body.style.overflow='hidden';")
